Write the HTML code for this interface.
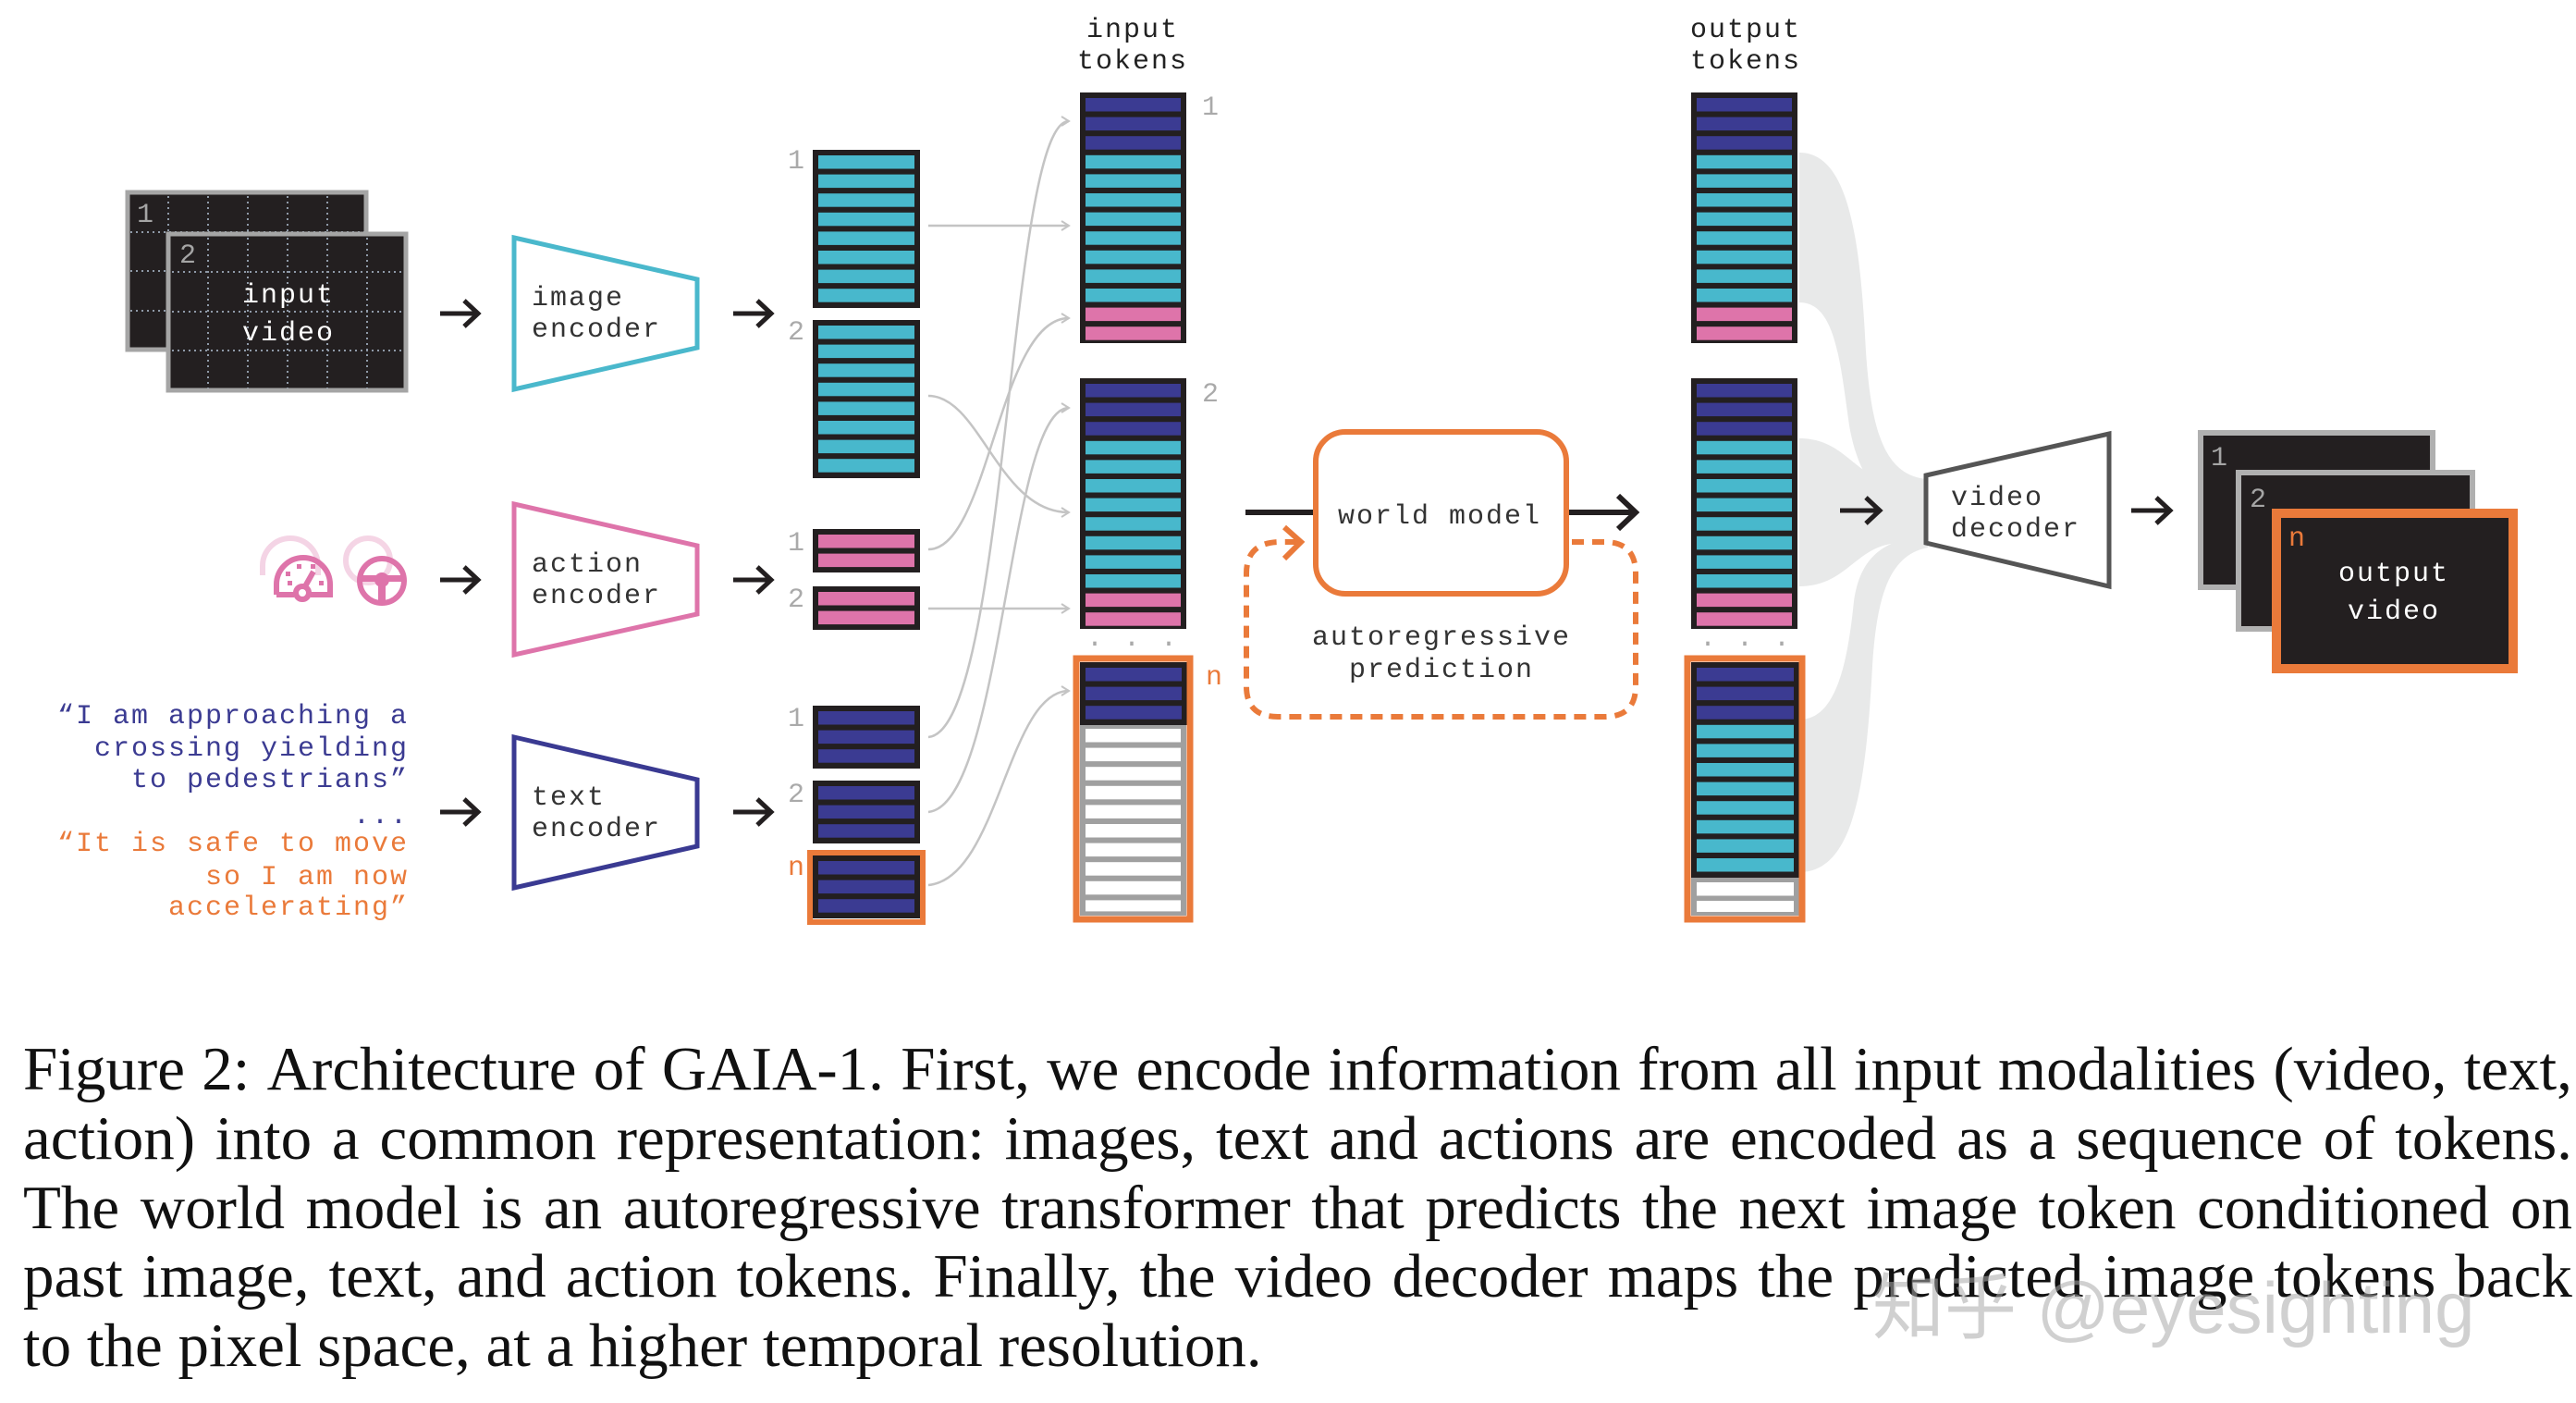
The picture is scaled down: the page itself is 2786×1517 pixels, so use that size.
<!DOCTYPE html>
<html><head><meta charset="utf-8"><style>
html,body{margin:0;padding:0;background:#fff;}
body{width:2786px;height:1517px;position:relative;overflow:hidden;}
svg{position:absolute;left:0;top:0;}
.m{font-family:"Liberation Mono",monospace;font-size:30px;letter-spacing:2px;}
.cap{position:absolute;left:25px;width:2757px;font-family:"Liberation Serif",serif;font-size:67px;color:#111;display:flex;justify-content:space-between;white-space:nowrap;line-height:1;}
.wm{position:absolute;left:2025px;top:1352px;font-family:"Liberation Sans","Noto Sans CJK SC",sans-serif;font-size:78px;color:rgba(170,170,170,0.55);white-space:nowrap;}
</style></head><body>
<svg width="2786" height="1517" viewBox="0 0 2786 1517" xmlns="http://www.w3.org/2000/svg">
<defs>
<g id="blkA">
<rect x="0" y="0" width="115" height="271" fill="#231f20"/>
<rect x="6" y="6" width="103" height="14.5" fill="#3b3b92"/>
<rect x="6" y="26.6" width="103" height="14.5" fill="#3b3b92"/>
<rect x="6" y="47.2" width="103" height="14.5" fill="#3b3b92"/>
<rect x="6" y="67.8" width="103" height="14.5" fill="#48b8cc"/>
<rect x="6" y="88.4" width="103" height="14.5" fill="#48b8cc"/>
<rect x="6" y="109" width="103" height="14.5" fill="#48b8cc"/>
<rect x="6" y="129.6" width="103" height="14.5" fill="#48b8cc"/>
<rect x="6" y="150.2" width="103" height="14.5" fill="#48b8cc"/>
<rect x="6" y="170.8" width="103" height="14.5" fill="#48b8cc"/>
<rect x="6" y="191.4" width="103" height="14.5" fill="#48b8cc"/>
<rect x="6" y="212" width="103" height="14.5" fill="#48b8cc"/>
<rect x="6" y="232.6" width="103" height="14.5" fill="#de74aa"/>
<rect x="6" y="253.2" width="103" height="14.5" fill="#de74aa"/>
</g>
<g id="cyan8">
<rect x="0" y="0" width="116" height="171" fill="#231f20"/>
<rect x="6" y="6" width="104" height="14.5" fill="#48b8cc"/>
<rect x="6" y="26.6" width="104" height="14.5" fill="#48b8cc"/>
<rect x="6" y="47.2" width="104" height="14.5" fill="#48b8cc"/>
<rect x="6" y="67.8" width="104" height="14.5" fill="#48b8cc"/>
<rect x="6" y="88.4" width="104" height="14.5" fill="#48b8cc"/>
<rect x="6" y="109" width="104" height="14.5" fill="#48b8cc"/>
<rect x="6" y="129.6" width="104" height="14.5" fill="#48b8cc"/>
<rect x="6" y="150.2" width="104" height="14.5" fill="#48b8cc"/>
</g>
<g id="pink2">
<rect x="0" y="0" width="116" height="47" fill="#231f20"/>
<rect x="6" y="6" width="104" height="14.5" fill="#de74aa"/>
<rect x="6" y="26.6" width="104" height="14.5" fill="#de74aa"/>
</g>
<g id="blue3">
<rect x="0" y="0" width="116" height="68" fill="#231f20"/>
<rect x="6" y="6" width="104" height="14.5" fill="#3b3b92"/>
<rect x="6" y="26.6" width="104" height="14.5" fill="#3b3b92"/>
<rect x="6" y="47.2" width="104" height="14.5" fill="#3b3b92"/>
</g>
<marker id="ga" markerWidth="12" markerHeight="12" refX="10" refY="6" orient="auto" markerUnits="userSpaceOnUse">
<path d="M2,1 L10,6 L2,11" fill="none" stroke="#c4c4c4" stroke-width="2"/>
</marker>
</defs>

<g fill="#e8e9e9">
<path d="M1946,165 C2000,165 2012,260 2018,380 C2024,470 2040,515 2085,518 L2085,560 C2040,555 2010,520 2000,460 C1990,390 1985,327 1946,327 Z"/>
<path d="M1946,474 C1995,474 2005,515 2045,520 L2085,520 L2085,585 L2045,588 C2005,595 1995,634 1946,634 Z"/>
<path d="M1946,778 C1985,778 1998,720 2005,650 C2012,600 2040,582 2085,580 L2085,592 C2045,600 2030,640 2025,720 C2018,850 2005,943 1946,943 Z"/>
</g>

<rect x="138" y="208" width="258" height="170" fill="#231f20" stroke="#a5a5a5" stroke-width="5"/>
<g stroke="#8f9aa8" stroke-width="2" stroke-dasharray="2 4">
<line x1="182" y1="212" x2="182" y2="376"/><line x1="225" y1="212" x2="225" y2="376"/><line x1="268" y1="212" x2="268" y2="376"/><line x1="311" y1="212" x2="311" y2="376"/><line x1="354" y1="212" x2="354" y2="376"/>
<line x1="141" y1="251" x2="394" y2="251"/><line x1="141" y1="293" x2="394" y2="293"/><line x1="141" y1="336" x2="394" y2="336"/>
</g>
<text x="148" y="240" class="m" fill="#a5a5a5" font-size="26">1</text>
<rect x="182" y="253" width="257" height="169" fill="#231f20" stroke="#a5a5a5" stroke-width="5"/>
<g stroke="#8f9aa8" stroke-width="2" stroke-dasharray="2 4">
<line x1="225" y1="257" x2="225" y2="420"/><line x1="268" y1="257" x2="268" y2="420"/><line x1="311" y1="257" x2="311" y2="420"/><line x1="354" y1="257" x2="354" y2="420"/><line x1="397" y1="257" x2="397" y2="420"/>
<line x1="186" y1="294" x2="436" y2="294"/><line x1="186" y1="337" x2="436" y2="337"/><line x1="186" y1="379" x2="436" y2="379"/>
</g>
<text x="194" y="284" class="m" fill="#a5a5a5">2</text>
<text x="312" y="327" class="m" fill="#fff" text-anchor="middle">input</text>
<text x="312" y="368" class="m" fill="#fff" text-anchor="middle">video</text>

<g opacity="0.3" fill="none" stroke="#de74aa" stroke-width="6">
<path d="M284,622 L284,612 A30,30 0 0 1 344,612 L344,622"/>
<circle cx="398" cy="606" r="24"/>
</g>
<g fill="none" stroke="#de74aa" stroke-width="6">
<path d="M299,643 L299,632 A29,29 0 0 1 357,632 L357,643 L336,643"/>
<line x1="299" y1="643" x2="318" y2="643"/>
<circle cx="327" cy="641" r="7"/>
<line x1="330" y1="634" x2="339" y2="618"/>
<circle cx="413" cy="628" r="24"/>
</g>
<g fill="#de74aa">
<rect x="309" y="618" width="5" height="5"/><rect x="321" y="610" width="5" height="5"/><rect x="336" y="610" width="5" height="5"/><rect x="345" y="628" width="5" height="5"/><rect x="311" y="628" width="5" height="5"/>
<circle cx="413" cy="627" r="8"/>
<rect x="390" y="622" width="46" height="7"/>
<rect x="409" y="627" width="8" height="24"/>
</g>

<g class="m" font-size="31" letter-spacing="3" text-anchor="end">
<text x="442" y="782" fill="#3b3b92">“I am approaching a</text>
<text x="442" y="817" fill="#3b3b92">crossing yielding</text>
<text x="442" y="851" fill="#3b3b92">to pedestrians”</text>
<text x="442" y="890" fill="#3b3b92">...</text>
<text x="442" y="920" fill="#ea7a3a">“It is safe to move</text>
<text x="442" y="956" fill="#ea7a3a">so I am now</text>
<text x="442" y="989" fill="#ea7a3a">accelerating”</text>
</g>

<g fill="none" stroke="#231f20" stroke-width="5">
<path d="M476,339 L516,339 M502,325 L517,339 L502,353"/>
<path d="M793,339 L833,339 M819,325 L834,339 L819,353"/>
<path d="M476,627 L516,627 M502,613 L517,627 L502,641"/>
<path d="M793,627 L833,627 M819,613 L834,627 L819,641"/>
<path d="M476,878 L516,878 M502,864 L517,878 L502,892"/>
<path d="M793,878 L833,878 M819,864 L834,878 L819,892"/>
<path d="M1990,552 L2032,552 M2018,538 L2033,552 L2018,566"/>
<path d="M2305,552 L2346,552 M2332,538 L2347,552 L2332,566"/>
</g>

<path d="M556,257 L754,302 L754,376 L556,421 Z" fill="#fff" stroke="#4ab8cc" stroke-width="5"/>
<text x="575" y="330" class="m" fill="#333">image</text>
<text x="575" y="364" class="m" fill="#333">encoder</text>
<path d="M556,545 L754,590 L754,664 L556,708 Z" fill="#fff" stroke="#de74aa" stroke-width="5"/>
<text x="575" y="618" class="m" fill="#333">action</text>
<text x="575" y="652" class="m" fill="#333">encoder</text>
<path d="M556,797 L754,843 L754,915 L556,960 Z" fill="#fff" stroke="#3a3a92" stroke-width="5"/>
<text x="575" y="870" class="m" fill="#333">text</text>
<text x="575" y="904" class="m" fill="#333">encoder</text>

<use href="#cyan8" x="879" y="162"/>
<use href="#cyan8" x="879" y="346"/>
<use href="#pink2" x="879" y="572"/>
<use href="#pink2" x="879" y="634"/>
<use href="#blue3" x="879" y="763"/>
<use href="#blue3" x="879" y="844"/>
<rect x="876" y="922" width="122" height="75" fill="none" stroke="#ea7a3a" stroke-width="6"/>
<use href="#blue3" x="879" y="925"/>
<g class="m" fill="#aaa" font-size="26">
<text x="852" y="182">1</text><text x="852" y="367">2</text>
<text x="852" y="595">1</text><text x="852" y="656">2</text>
<text x="852" y="785">1</text><text x="852" y="867">2</text>
<text x="852" y="946" fill="#ea7a3a">n</text>
</g>

<g fill="none" stroke="#c4c4c4" stroke-width="2.5" marker-end="url(#ga)">
<path d="M1004,244 L1156,244"/>
<path d="M1004,428 C1060,428 1080,554 1156,554"/>
<path d="M1004,594 C1070,594 1080,344 1156,344"/>
<path d="M1004,658 L1156,658"/>
<path d="M1004,797 C1090,790 1090,131 1156,131"/>
<path d="M1004,878 C1085,870 1090,441 1156,441"/>
<path d="M1004,957 C1080,950 1090,747 1156,747"/>
</g>

<text x="1225" y="40" class="m" fill="#222" text-anchor="middle">input</text>
<text x="1225" y="74" class="m" fill="#222" text-anchor="middle">tokens</text>
<use href="#blkA" x="1168" y="100"/>
<use href="#blkA" x="1168" y="409"/>
<text x="1225" y="698" class="m" fill="#aaa" text-anchor="middle" font-size="20">. . .</text>
<rect x="1168" y="716" width="115" height="274" fill="#a0a0a0"/>
<g fill="#fff">
<rect x="1174" y="788" width="103" height="14.5"/><rect x="1174" y="808.6" width="103" height="14.5"/><rect x="1174" y="829.2" width="103" height="14.5"/><rect x="1174" y="849.8" width="103" height="14.5"/><rect x="1174" y="870.4" width="103" height="14.5"/><rect x="1174" y="891" width="103" height="14.5"/><rect x="1174" y="911.6" width="103" height="14.5"/><rect x="1174" y="932.2" width="103" height="14.5"/><rect x="1174" y="952.8" width="103" height="14.5"/><rect x="1174" y="973.4" width="103" height="12"/>
</g>
<use href="#blue3" x="1168" y="716"/>
<rect x="1164" y="712" width="123" height="282" fill="none" stroke="#ea7a3a" stroke-width="7"/>
<g class="m" font-size="26">
<text x="1300" y="124" fill="#aaa">1</text>
<text x="1300" y="434" fill="#aaa">2</text>
<text x="1304" y="740" fill="#ea7a3a">n</text>
</g>

<line x1="1347" y1="554" x2="1420" y2="554" stroke="#231f20" stroke-width="6"/>
<path d="M1697,554 L1768,554 M1750,536 L1769,554 L1750,572" fill="none" stroke="#231f20" stroke-width="6"/>
<rect x="1423" y="467" width="271" height="175" rx="32" fill="#fff" stroke="#ea7a3a" stroke-width="6"/>
<text x="1557" y="566" class="m" fill="#333" text-anchor="middle">world model</text>
<path d="M1700,586 L1735,586 Q1769,586 1769,620 L1769,742 Q1769,775 1735,775 L1382,775 Q1348,775 1348,742 L1348,620 Q1348,586 1385,586 L1405,586" fill="none" stroke="#ea7a3a" stroke-width="6" stroke-dasharray="13 9"/>
<path d="M1389,570 L1407,586 L1389,604" fill="none" stroke="#ea7a3a" stroke-width="6"/>
<text x="1559" y="697" class="m" fill="#333" text-anchor="middle">autoregressive</text>
<text x="1559" y="732" class="m" fill="#333" text-anchor="middle">prediction</text>

<text x="1888" y="40" class="m" fill="#222" text-anchor="middle">output</text>
<text x="1888" y="74" class="m" fill="#222" text-anchor="middle">tokens</text>
<use href="#blkA" x="1829" y="100"/>
<use href="#blkA" x="1829" y="409"/>
<text x="1888" y="698" class="m" fill="#aaa" text-anchor="middle" font-size="20">. . .</text>
<rect x="1829" y="716" width="117" height="274" fill="#a0a0a0"/>
<rect x="1835" y="954" width="105" height="14.5" fill="#fff"/>
<rect x="1835" y="974" width="105" height="12" fill="#fff"/>
<rect x="1829" y="716" width="117" height="233" fill="#231f20"/>
<g>
<rect x="1835" y="722" width="105" height="14.5" fill="#3b3b92"/><rect x="1835" y="742.6" width="105" height="14.5" fill="#3b3b92"/><rect x="1835" y="763.2" width="105" height="14.5" fill="#3b3b92"/>
<rect x="1835" y="783.8" width="105" height="14.5" fill="#48b8cc"/><rect x="1835" y="804.4" width="105" height="14.5" fill="#48b8cc"/><rect x="1835" y="825" width="105" height="14.5" fill="#48b8cc"/><rect x="1835" y="845.6" width="105" height="14.5" fill="#48b8cc"/><rect x="1835" y="866.2" width="105" height="14.5" fill="#48b8cc"/><rect x="1835" y="886.8" width="105" height="14.5" fill="#48b8cc"/><rect x="1835" y="907.4" width="105" height="14.5" fill="#48b8cc"/><rect x="1835" y="928" width="105" height="14.5" fill="#48b8cc"/>
</g>
<rect x="1825" y="712" width="124" height="282" fill="none" stroke="#ea7a3a" stroke-width="7"/>

<path d="M2083,514 L2281,469 L2281,634 L2083,587 Z" fill="#fff" stroke="#555" stroke-width="5"/>
<text x="2110" y="546" class="m" fill="#333">video</text>
<text x="2110" y="580" class="m" fill="#333">decoder</text>

<rect x="2380" y="468" width="251" height="167" fill="#231f20" stroke="#b0b0b0" stroke-width="6"/>
<text x="2391" y="503" class="m" fill="#a5a5a5">1</text>
<rect x="2421" y="511" width="253" height="169" fill="#231f20" stroke="#b0b0b0" stroke-width="6"/>
<text x="2433" y="548" class="m" fill="#a5a5a5">2</text>
<rect x="2462" y="555" width="256" height="168" fill="#231f20" stroke="#ea7a3a" stroke-width="10"/>
<text x="2475" y="590" class="m" fill="#ea7a3a">n</text>
<text x="2589" y="628" class="m" fill="#fff" text-anchor="middle">output</text>
<text x="2589" y="669" class="m" fill="#fff" text-anchor="middle">video</text>
</svg>

<div class="cap" style="top:1123px"><span>Figure</span><span>2:</span><span>Architecture</span><span>of</span><span>GAIA-1.</span><span>First,</span><span>we</span><span>encode</span><span>information</span><span>from</span><span>all</span><span>input</span><span>modalities</span><span>(video,</span><span>text,</span></div>
<div class="cap" style="top:1198px"><span>action)</span><span>into</span><span>a</span><span>common</span><span>representation:</span><span>images,</span><span>text</span><span>and</span><span>actions</span><span>are</span><span>encoded</span><span>as</span><span>a</span><span>sequence</span><span>of</span><span>tokens.</span></div>
<div class="cap" style="top:1273px"><span>The</span><span>world</span><span>model</span><span>is</span><span>an</span><span>autoregressive</span><span>transformer</span><span>that</span><span>predicts</span><span>the</span><span>next</span><span>image</span><span>token</span><span>conditioned</span><span>on</span></div>
<div class="cap" style="top:1347px"><span>past</span><span>image,</span><span>text,</span><span>and</span><span>action</span><span>tokens.</span><span>Finally,</span><span>the</span><span>video</span><span>decoder</span><span>maps</span><span>the</span><span>predicted</span><span>image</span><span>tokens</span><span>back</span></div>
<div class="cap" style="top:1422px;width:auto"><span>to the pixel space, at a higher temporal resolution.</span></div>
<div class="wm">知乎 @eyesighting</div>
</body></html>
